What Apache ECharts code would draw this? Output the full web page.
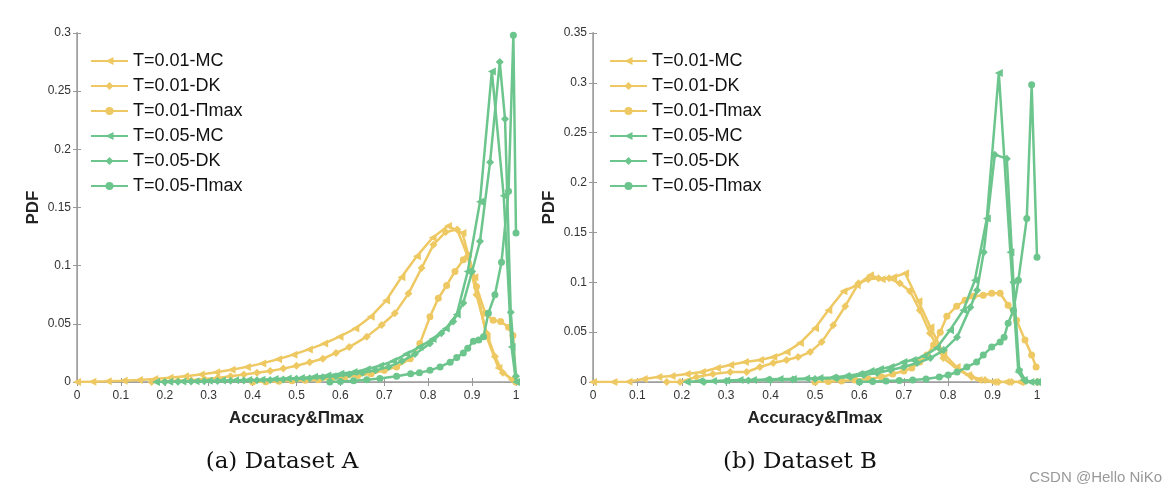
<!DOCTYPE html>
<html>
<head>
<meta charset="utf-8">
<script src="https://cdn.jsdelivr.net/npm/echarts@6/dist/echarts.min.js"></script>
<style>
  html, body { margin: 0; padding: 0; background: #fff; }
  #chart { width: 1176px; height: 496px; }
</style>
</head>
<body>
<div id="chart"></div>
<script>
// legend names (same for both panels)
var names = ["T=0.01-MC", "T=0.01-DK", "T=0.01-Πmax", "T=0.05-MC", "T=0.05-DK", "T=0.05-Πmax"];

// axis ranges
var xMin = 0, xMax = 1, xStep = 0.1;
var yMaxA = 0.3, yMaxB = 0.35, yStep = 0.05;

// ---- Dataset A : [accuracy, pdf]
var aMC1 = [[0,0],[0.035,0.0003],[0.07,0.0006],[0.106,0.001],[0.141,0.0017],[0.176,0.0026],[0.211,0.0036],[0.246,0.005],[0.282,0.0065],[0.317,0.0083],[0.352,0.0105],[0.387,0.013],[0.422,0.016],[0.458,0.0195],[0.493,0.0235],[0.528,0.028],[0.563,0.033],[0.598,0.039],[0.634,0.046],[0.669,0.056],[0.704,0.07],[0.739,0.09],[0.774,0.108],[0.81,0.124],[0.845,0.134],[0.878,0.128],[0.905,0.09],[0.933,0.039],[0.96,0.012],[0.99,0.002]];
var aDK1 = [[0.17,0],[0.2,0.0005],[0.23,0.001],[0.26,0.0015],[0.29,0.0025],[0.32,0.0035],[0.35,0.005],[0.38,0.0065],[0.41,0.008],[0.44,0.0095],[0.47,0.0115],[0.5,0.014],[0.53,0.017],[0.56,0.02],[0.59,0.025],[0.62,0.03],[0.66,0.039],[0.694,0.049],[0.724,0.059],[0.755,0.076],[0.785,0.098],[0.812,0.118],[0.84,0.129],[0.866,0.131],[0.89,0.108],[0.91,0.075],[0.933,0.042],[0.952,0.022],[0.97,0.008],[0.993,0.002]];
var aPM1 = [[0.4,0],[0.43,0.0003],[0.46,0.0006],[0.49,0.001],[0.52,0.0015],[0.55,0.002],[0.58,0.003],[0.61,0.004],[0.64,0.0055],[0.67,0.007],[0.7,0.01],[0.728,0.013],[0.759,0.02],[0.781,0.033],[0.804,0.056],[0.823,0.072],[0.842,0.083],[0.861,0.095],[0.88,0.105],[0.892,0.109],[0.91,0.082],[0.93,0.059],[0.948,0.053],[0.965,0.052],[0.983,0.047],[0.993,0.04],[1,0]];
var aMC5 = [[0.18,0],[0.21,0.0003],[0.24,0.0005],[0.27,0.0007],[0.3,0.001],[0.33,0.0012],[0.36,0.0015],[0.39,0.0018],[0.42,0.002],[0.45,0.0025],[0.48,0.003],[0.51,0.0035],[0.54,0.0045],[0.57,0.0055],[0.6,0.007],[0.63,0.0085],[0.66,0.011],[0.69,0.014],[0.72,0.018],[0.75,0.024],[0.78,0.03],[0.81,0.037],[0.84,0.046],[0.865,0.058],[0.89,0.095],[0.918,0.155],[0.945,0.267],[0.972,0.16],[0.99,0.03],[1,0]];
var aDK5 = [[0.2,0],[0.23,0.0002],[0.26,0.0004],[0.29,0.0006],[0.32,0.0008],[0.35,0.001],[0.38,0.0012],[0.41,0.0015],[0.44,0.0018],[0.47,0.0022],[0.5,0.0027],[0.53,0.0033],[0.56,0.004],[0.59,0.005],[0.62,0.0065],[0.65,0.008],[0.68,0.01],[0.71,0.013],[0.74,0.018],[0.77,0.024],[0.804,0.033],[0.83,0.042],[0.857,0.052],[0.88,0.068],[0.9,0.095],[0.918,0.121],[0.941,0.189],[0.963,0.275],[0.975,0.226],[0.988,0.06],[1,0.005]];
var aPM5 = [[0.576,0],[0.6,0.0005],[0.63,0.001],[0.66,0.002],[0.69,0.003],[0.728,0.005],[0.76,0.007],[0.78,0.008],[0.804,0.01],[0.827,0.013],[0.85,0.017],[0.865,0.021],[0.88,0.025],[0.89,0.029],[0.903,0.035],[0.915,0.036],[0.926,0.039],[0.937,0.059],[0.952,0.075],[0.967,0.103],[0.983,0.164],[0.994,0.298],[1,0.128]];

// ---- Dataset B
var bMC1 = [[0,0],[0.046,0],[0.08,0.0003],[0.114,0.003],[0.147,0.005],[0.177,0.006],[0.211,0.008],[0.245,0.01],[0.279,0.014],[0.309,0.017],[0.342,0.02],[0.376,0.022],[0.406,0.025],[0.436,0.03],[0.466,0.039],[0.5,0.054],[0.53,0.072],[0.564,0.091],[0.594,0.097],[0.624,0.107],[0.65,0.103],[0.676,0.105],[0.703,0.109],[0.733,0.081],[0.76,0.055],[0.789,0.029],[0.819,0.015],[0.845,0.007],[0.868,0.002],[0.9,0],[0.93,0],[0.96,0],[0.995,0]];
var bDK1 = [[0.166,0],[0.196,0],[0.233,0.005],[0.27,0.008],[0.309,0.01],[0.346,0.01],[0.376,0.015],[0.406,0.019],[0.436,0.022],[0.462,0.025],[0.489,0.03],[0.515,0.04],[0.541,0.057],[0.568,0.076],[0.598,0.099],[0.62,0.103],[0.643,0.104],[0.667,0.104],[0.691,0.099],[0.714,0.091],[0.736,0.072],[0.759,0.049],[0.789,0.024],[0.823,0.012],[0.853,0.005],[0.883,0.002],[0.913,0],[0.943,0],[0.97,0],[1,0]];
var bPM1 = [[0.5,0],[0.53,0.0005],[0.56,0.001],[0.59,0.002],[0.62,0.003],[0.65,0.005],[0.675,0.008],[0.7,0.011],[0.718,0.014],[0.736,0.02],[0.752,0.027],[0.767,0.037],[0.782,0.05],[0.797,0.066],[0.819,0.076],[0.838,0.082],[0.857,0.086],[0.879,0.087],[0.898,0.089],[0.917,0.089],[0.935,0.077],[0.954,0.062],[0.973,0.042],[0.988,0.027],[0.998,0.015]];
var bMC5 = [[0.211,0],[0.24,0.001],[0.27,0.001],[0.3,0.0015],[0.33,0.002],[0.36,0.002],[0.39,0.0025],[0.42,0.003],[0.45,0.003],[0.48,0.0035],[0.51,0.004],[0.54,0.0045],[0.57,0.006],[0.6,0.008],[0.625,0.011],[0.646,0.013],[0.67,0.015],[0.699,0.02],[0.72,0.022],[0.745,0.026],[0.774,0.034],[0.804,0.052],[0.834,0.072],[0.86,0.102],[0.887,0.164],[0.914,0.31],[0.94,0.13],[0.958,0.01],[0.97,0.002],[0.985,0],[1,0]];
var bDK5 = [[0.25,0],[0.3,0.001],[0.35,0.0015],[0.4,0.002],[0.45,0.0025],[0.5,0.003],[0.55,0.004],[0.58,0.005],[0.61,0.007],[0.64,0.009],[0.67,0.012],[0.7,0.015],[0.73,0.019],[0.76,0.024],[0.79,0.032],[0.82,0.045],[0.85,0.075],[0.865,0.092],[0.88,0.13],[0.905,0.228],[0.932,0.224],[0.947,0.1],[0.96,0.012],[0.975,0.001],[1,0]];
var bPM5 = [[0.6,0],[0.63,0.0005],[0.66,0.001],[0.69,0.0015],[0.72,0.002],[0.75,0.003],[0.78,0.005],[0.8,0.007],[0.82,0.01],[0.842,0.015],[0.864,0.02],[0.879,0.027],[0.898,0.035],[0.917,0.04],[0.926,0.045],[0.935,0.059],[0.947,0.072],[0.958,0.102],[0.977,0.164],[0.988,0.298],[1,0.125]];

var yellow = "#EEC963";
var green = "#6CC58C";

var chartDom = document.getElementById("chart");
var myChart = echarts.init(chartDom);

function makeSeries(name, data, idx, color, shape) {
  return {
    name: name,
    type: "line",
    xAxisIndex: idx,
    yAxisIndex: idx,
    data: data,
    symbol: shape === "tri" ? "triangle" : shape,
    symbolRotate: shape === "tri" ? 90 : 0,
    symbolSize: shape === "circle" ? 7 : 8,
    lineStyle: { color: color, width: 2.5 },
    itemStyle: { color: color },
    z: color === green ? 3 : 2
  };
}

var sets = [
  [aMC1, aDK1, aPM1, aMC5, aDK5, aPM5],
  [bMC1, bDK1, bPM1, bMC5, bDK5, bPM5]
];
var shapes = ["tri", "diamond", "circle", "tri", "diamond", "circle"];
var series = [];
for (var g = 0; g < 2; g++) {
  for (var i = 0; i < 6; i++) {
    series.push(makeSeries(names[i], sets[g][i], g, i < 3 ? yellow : green, shapes[i]));
  }
}

function xAx(grid, pos, show) {
  return {
    type: "value", gridIndex: grid, position: pos,
    min: xMin, max: xMax, interval: xStep,
    name: show ? "Accuracy&Πmax" : "",
    nameLocation: "middle", nameGap: 28,
    nameTextStyle: { fontSize: 17, fontWeight: "bold", color: "#222", fontFamily: "Liberation Sans" },
    axisLine: { show: true, lineStyle: { color: show ? "#b5b5b5" : "#a0a0a0", width: show ? 2 : 1 } },
    axisTick: { show: true, inside: true, length: 4, lineStyle: { color: "#999" } },
    axisLabel: { show: show, fontSize: 12, color: "#333", margin: 8, fontFamily: "Liberation Sans" },
    splitLine: { show: false }
  };
}
function yAx(grid, pos, max, show) {
  return {
    type: "value", gridIndex: grid, position: pos,
    min: 0, max: max, interval: yStep,
    name: show ? "PDF" : "",
    nameLocation: "middle", nameGap: 35, nameRotate: 90,
    nameTextStyle: { fontSize: 17, fontWeight: "bold", color: "#222", fontFamily: "Liberation Sans" },
    axisLine: { show: true, lineStyle: { color: show ? "#b5b5b5" : "#a0a0a0", width: show ? 2 : 1 } },
    axisTick: { show: true, inside: true, length: 4, lineStyle: { color: "#999" } },
    axisLabel: { show: show, fontSize: 12, color: "#333", margin: 6, fontFamily: "Liberation Sans" },
    splitLine: { show: false }
  };
}

function legendAt(left) {
  return {
    data: names, left: left, top: 52, orient: "vertical", padding: 0,
    itemWidth: 37, itemHeight: 10, itemGap: 7,
    textStyle: { fontSize: 18, color: "#111", fontFamily: "Liberation Sans" },
    selectedMode: false
  };
}

var option = {
  animation: false,
  backgroundColor: "#fff",
  grid: [
    { left: 77, top: 33, width: 439, height: 349 },
    { left: 593, top: 33, width: 444, height: 349 }
  ],
  xAxis: [xAx(0, "bottom", true), xAx(1, "bottom", true), xAx(0, "top", false), xAx(1, "top", false)],
  yAxis: [yAx(0, "left", yMaxA, true), yAx(1, "left", yMaxB, true), yAx(0, "right", yMaxA, false), yAx(1, "right", yMaxB, false)],
  legend: [legendAt(90), legendAt(609)],
  series: series,
  graphic: [
    { type: "text", x: 282, y: 462, style: { text: "(a) Dataset A", fontSize: 23, fontFamily: "DejaVu Serif", fill: "#111", align: "center", verticalAlign: "middle" } },
    { type: "text", x: 800, y: 462, style: { text: "(b) Dataset B", fontSize: 23, fontFamily: "DejaVu Serif", fill: "#111", align: "center", verticalAlign: "middle" } },
    { type: "text", x: 1162, y: 478, style: { text: "CSDN @Hello NiKo", fontSize: 15, fontFamily: "Liberation Sans", fill: "#999", align: "right", verticalAlign: "middle" } }
  ]
};

option && myChart.setOption(option);
</script>
</body>
</html>
